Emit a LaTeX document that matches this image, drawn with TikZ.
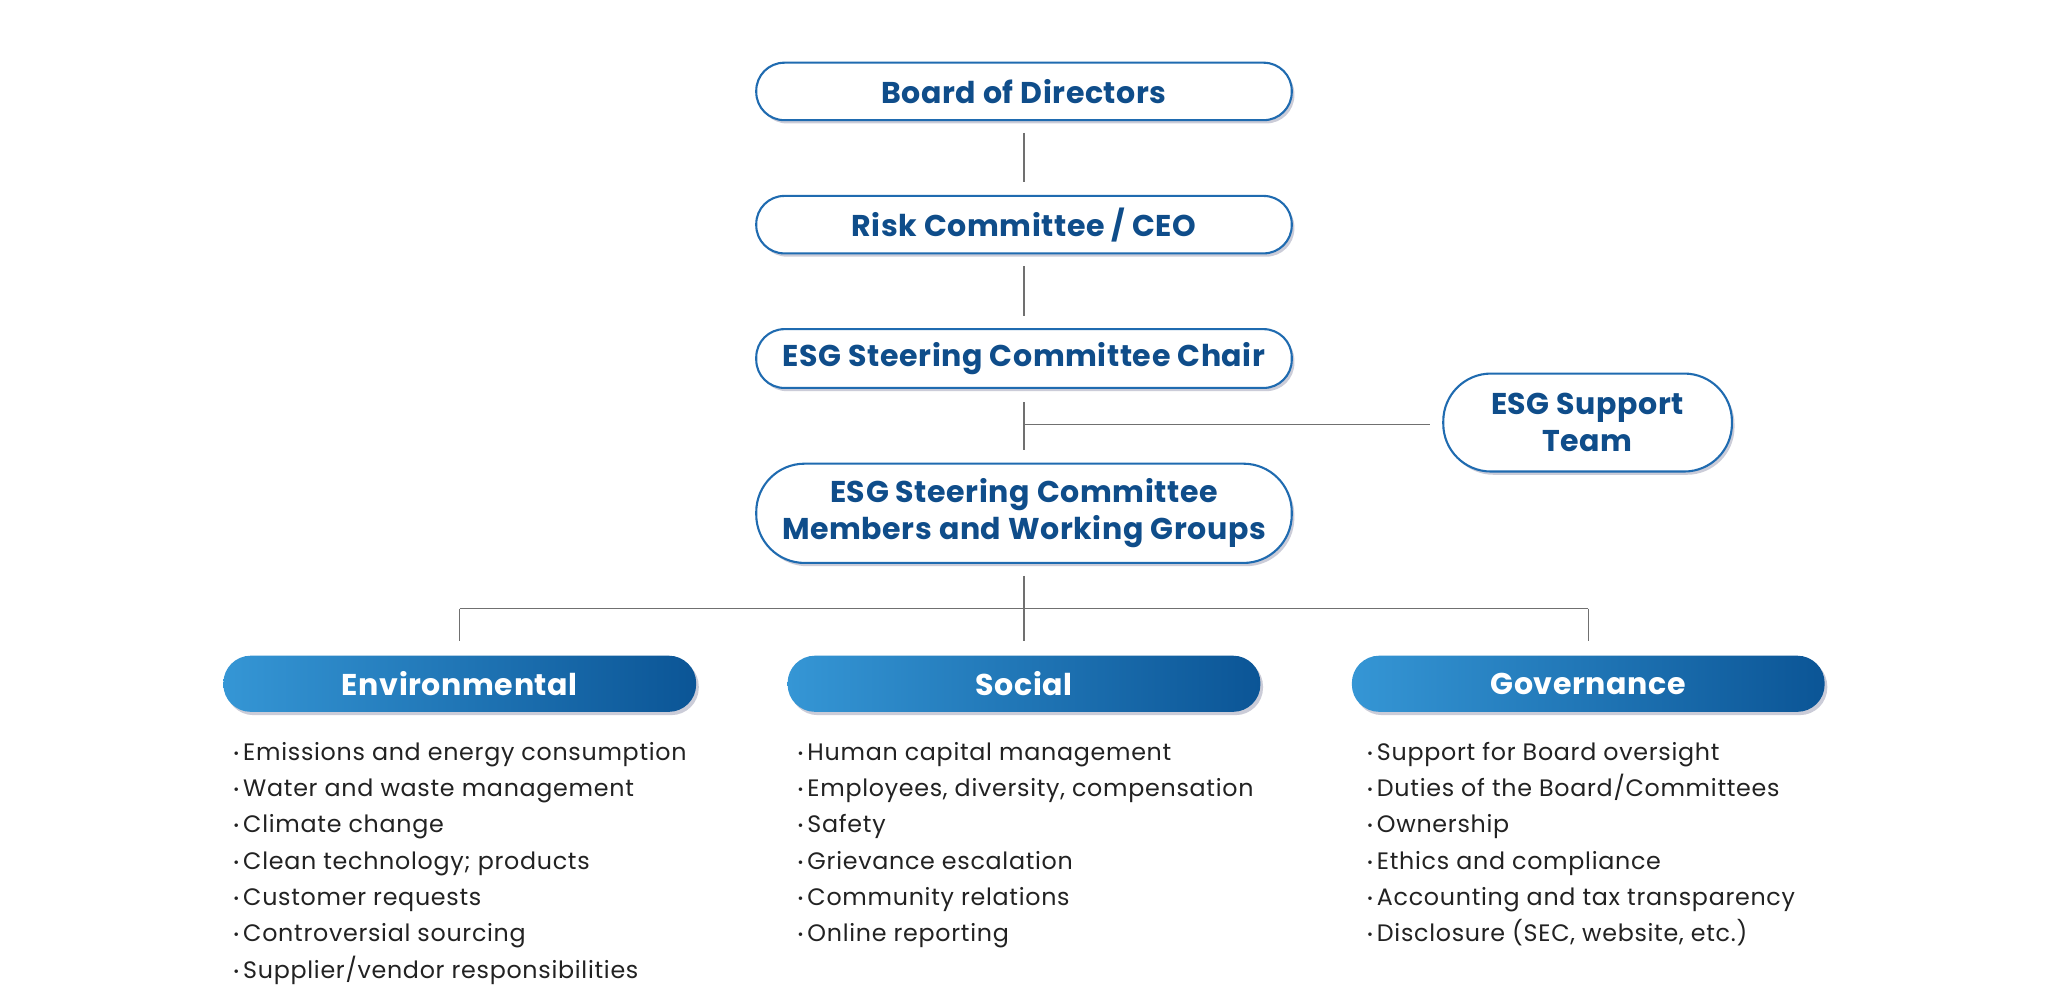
\documentclass[tikz,border=0pt]{standalone}
\usepackage{fontspec}
\setmainfont{Poppins}
\usetikzlibrary{shadows}
\definecolor{boxblue}{HTML}{1F6BB0}
\definecolor{txtblue}{HTML}{0F4D8A}
\definecolor{gradL}{HTML}{3596D5}
\definecolor{gradR}{HTML}{0B5596}
\definecolor{linegray}{HTML}{707070}
\definecolor{bodytxt}{HTML}{222222}
\definecolor{shadowc}{HTML}{55587F}
\newcommand{\bul}{{\fontsize{11}{12}\selectfont\raisebox{1.5pt}{•}}\hspace{3pt}}
\newcommand{\titlefont}{\bfseries\fontsize{23}{28}\selectfont\addfontfeatures{LetterSpace=2}}
\tikzset{
  orgbox/.style={draw=boxblue, line width=1.6pt, fill=white, rounded corners=21.5pt,
    minimum width=410pt, minimum height=44pt, inner sep=0pt, align=center,
    font=\titlefont, text=txtblue,
    drop shadow={shadow xshift=2pt, shadow yshift=-2.5pt, opacity=0.3, fill=shadowc}},
  catbox/.style={rounded corners=21pt, minimum width=362pt, minimum height=43pt,
    inner sep=0pt, left color=gradL, right color=gradR, text=white,
    font=\titlefont,
    drop shadow={shadow xshift=2pt, shadow yshift=-2.5pt, opacity=0.3, fill=shadowc}},
  link/.style={draw=linegray, line width=1.1pt},
  item/.style={anchor=base west, inner sep=0pt, font=\fontsize{18.2}{20}\selectfont\addfontfeatures{LetterSpace=3}, text=bodytxt}
}
\begin{document}
\begin{tikzpicture}[x=1pt, y=-1pt]
\useasboundingbox (0,0) rectangle (1568,764);
\fill[white] (0,0) rectangle (1568,764);

\node[orgbox] (board) at (784,70) {Board of Directors};
\node[orgbox] (risk) at (784,172) {Risk Committee / CEO};
\node[orgbox, minimum height=45pt] (chair) at (784,274.5) {ESG Steering Committee Chair};
\node[orgbox, minimum height=76pt, rounded corners=37pt] (members) at (784,393) {ESG Steering Committee\\Members and Working Groups};
\node[orgbox, minimum width=221pt, minimum height=75pt, rounded corners=36.5pt] (support) at (1215.5,323.5) {ESG Support\\Team};

\node[catbox] (env) at (352,523.5) {Environmental};
\node[catbox] (soc) at (784,523.5) {Social};
\node[catbox] (gov) at (1216,523.5) {Governance};

\draw[link, shorten <=9pt, shorten >=10pt] (board) -- (risk);
\draw[link, shorten <=9pt, shorten >=9pt] (risk) -- (chair);
\draw[link, shorten <=10pt, shorten >=10pt] (chair) -- (members);
\coordinate (j1) at (784,325);
\draw[link, shorten >=9pt] (j1) -- (support.west |- j1);
\coordinate (j2) at (784,466);
\draw[link, shorten <=9pt, shorten >=11pt] (members) -- (soc);
\draw[link] (env.north |- j2) -- (gov.north |- j2);
\draw[link, shorten >=11pt] (env.north |- j2) -- (env.north);
\draw[link, shorten >=11pt] (gov.north |- j2) -- (gov.north);

\foreach \t [count=\i] in {Emissions and energy consumption, Water and waste management, Climate change, Clean technology; products, Customer requests, Controversial sourcing, Supplier/vendor responsibilities}
  \node[item] (env\i) at (178.5,{582+27.83*(\i-1)}) {\bul\t};
\foreach \t [count=\i] in {Human capital management, {Employees, diversity, compensation}, Safety, Grievance escalation, Community relations, Online reporting}
  \node[item] (soc\i) at (610.5,{582+27.83*(\i-1)}) {\bul\t};
\foreach \t [count=\i] in {Support for Board oversight, Duties of the Board/Committees, Ownership, Ethics and compliance, Accounting and tax transparency, {Disclosure (SEC, website, etc.)}}
  \node[item] (gov\i) at (1046.5,{582+27.83*(\i-1)}) {\bul\t};
\end{tikzpicture}
\end{document}
